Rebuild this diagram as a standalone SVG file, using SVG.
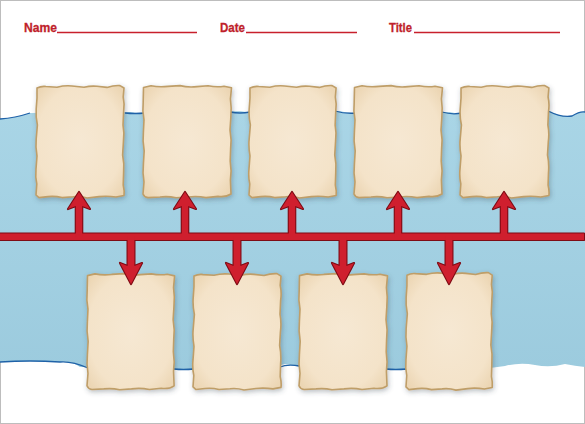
<svg xmlns="http://www.w3.org/2000/svg" xmlns:xlink="http://www.w3.org/1999/xlink" width="585" height="424" viewBox="0 0 585 424">
<style>
.hdr{font-family:"Liberation Sans",Arial,sans-serif;font-weight:bold;font-size:12.5px;fill:#c01f2b;stroke:#c01f2b;stroke-width:0.3}
.uline{stroke:#c8202c;stroke-width:1.5;fill:none}
.paper{fill:url(#paperGrad);stroke:#bf9e68;stroke-width:1.6;stroke-linejoin:round}
.edge{fill:none;stroke:#1f62a8;stroke-width:1.3}
.arrOut{fill:#7e0b14;stroke:#7e0b14;stroke-width:2.2;stroke-linejoin:round}
.arrIn{fill:#cf1f2e}
</style>
<defs>
<radialGradient id="paperGrad" cx="50%" cy="50%" r="65%">
<stop offset="0" stop-color="#f6e8d3"/>
<stop offset="0.75" stop-color="#f4e3c9"/>
<stop offset="1" stop-color="#ecd6b4"/>
</radialGradient>
<linearGradient id="waterGrad" x1="0" y1="0" x2="0" y2="1">
<stop offset="0" stop-color="#a9d5e6"/>
<stop offset="1" stop-color="#9ccbde"/>
</linearGradient>
<filter id="shadow" x="-15%" y="-15%" width="130%" height="130%">
<feDropShadow dx="1" dy="2" stdDeviation="2.5" flood-color="#3a4a55" flood-opacity="0.35"/>
</filter>
<path id="paperA" d="M2,3 Q6,1 11,1.5 L22,2.2 Q30,0.2 37,1 L49,2.2 Q56,0.6 62,1.3 L72,2.4 Q79,0.2 85,0.6 L89,3 L88.2,12 Q89.8,19 88.6,27 L88,40 Q89.6,48 88.4,57 L87.6,70 Q89.4,78 88.6,88 L88.2,100 Q89.6,106 89,110.5 L81,112 Q72,110.6 64,111.6 L52,113 Q45,111 38,111.8 L27,112.6 Q20,110.8 13,111.6 L4,112.6 L1,110 L1.8,99 Q0.2,92 1,84 L2,71 Q0.4,62 1.2,54 L2.4,40 Q0.6,32 1.2,24 L2,13 Z"/>
<path id="paperB" d="M1.5,2.5 L9,0.8 Q17,2.4 26,1.4 L38,0.6 Q46,2.6 55,1.6 L66,0.8 Q75,2.4 82,1.2 L89.5,2.8 L88.4,14 Q89.8,23 88.8,33 L88,45 Q89.8,55 88.6,64 L88.2,76 Q89.8,86 88.4,95 L89,109 Q84,112.4 76,111.4 L64,112.6 Q55,110.8 46,112 L34,112.8 Q26,111 18,112 L6,112.6 Q2,112 1,109 L2,97 Q0.4,88 1.4,79 L2.2,66 Q0.4,56 1.4,47 L2,35 Q0.2,26 1.2,17 Z"/>
<g id="arrows">
<rect x="0" y="233.5" width="584" height="6.5"/>
<path d="M75.8,237 L75.8,206 L68,209 L79,192 L90,209 L82.2,206 L82.2,237 Z"/>
<path d="M181.8,237 L181.8,206 L174,209 L185,192 L196,209 L188.2,206 L188.2,237 Z"/>
<path d="M288.8,237 L288.8,206 L281,209 L292,192 L303,209 L295.2,206 L295.2,237 Z"/>
<path d="M394.8,237 L394.8,206 L387,209 L398,192 L409,209 L401.2,206 L401.2,237 Z"/>
<path d="M500.8,237 L500.8,206 L493,209 L504,192 L515,209 L507.2,206 L507.2,237 Z"/>
<path d="M127.6,236 L127.6,266 L120,263 L131,284 L142,263 L134.4,266 L134.4,236 Z"/>
<path d="M233.6,236 L233.6,266 L226,263 L237,284 L248,263 L240.4,266 L240.4,236 Z"/>
<path d="M339.6,236 L339.6,266 L332,263 L343,284 L354,263 L346.4,266 L346.4,236 Z"/>
<path d="M445.6,236 L445.6,266 L438,263 L449,284 L460,263 L452.4,266 L452.4,236 Z"/>
</g>
</defs>

<rect x="0.5" y="0.5" width="584" height="423" fill="#ffffff" stroke="#bdbdbd" stroke-width="1"/>

<g id="header">
<text class="hdr" x="24" y="32" textLength="33" lengthAdjust="spacingAndGlyphs">Name</text>
<line class="uline" x1="57" y1="32.5" x2="197" y2="32.5"/>
<text class="hdr" x="220" y="32" textLength="25" lengthAdjust="spacingAndGlyphs">Date</text>
<line class="uline" x1="246" y1="32.5" x2="357" y2="32.5"/>
<text class="hdr" x="389" y="32" textLength="23" lengthAdjust="spacingAndGlyphs">Title</text>
<line class="uline" x1="414" y1="32.5" x2="560" y2="32.5"/>
</g>

<g id="water">
<path fill="url(#waterGrad)" d="M0,119 Q15,118 30,113 L130,112 Q140,114 150,113 L240,111 Q250,113 260,112 L340,111 Q350,114 360,113 L450,112 Q457,114 465,113 L550,111 Q562,118 572,116 Q580,111 585,112 L585,367 Q575,366 565,364 Q550,368 535,365 Q520,362 505,366 L490,368 L400,370 L300,367 L285,364 L270,368 L180,370 L170,368 L80,367 Q72,361 60,362 Q30,360 0,362 Z"/>
<path class="edge" d="M0,119 Q15,118 30,113 M125,113 Q135,114 145,113 M230,112 Q240,114 250,112 M335,111 Q345,114 357,113 M442,112 Q452,115 462,113 M548,111 Q562,118 572,116 Q580,111 585,112"/>
<path class="edge" d="M0,362 Q30,360 60,362 Q72,361 88,368 M174,369 Q183,370 194,369 M280,367 Q287,364 300,366 M386,369 Q395,370 407,369"/>
</g>

<g id="node-top-1" filter="url(#shadow)"><use xlink:href="#paperA" class="paper" transform="translate(35,85)"/></g>
<g id="node-top-2" filter="url(#shadow)"><use xlink:href="#paperB" class="paper" transform="translate(142,85)"/></g>
<g id="node-top-3" filter="url(#shadow)"><use xlink:href="#paperA" class="paper" transform="translate(248,85) scale(0.99,1)"/></g>
<g id="node-top-4" filter="url(#shadow)"><use xlink:href="#paperB" class="paper" transform="translate(353,85)"/></g>
<g id="node-top-5" filter="url(#shadow)"><use xlink:href="#paperA" class="paper" transform="translate(459,85) scale(1.01,1)"/></g>

<g id="node-bottom-1" filter="url(#shadow)"><use xlink:href="#paperB" class="paper" transform="translate(86,273) scale(0.99,1.035)"/></g>
<g id="node-bottom-2" filter="url(#shadow)"><use xlink:href="#paperA" class="paper" transform="translate(192,273) scale(1,1.035)"/></g>
<g id="node-bottom-3" filter="url(#shadow)"><use xlink:href="#paperB" class="paper" transform="translate(298,273) scale(1,1.035)"/></g>
<g id="node-bottom-4" filter="url(#shadow)"><use xlink:href="#paperA" class="paper" transform="translate(405,272) scale(0.98,1.045)"/></g>

<g id="connectors">
<use xlink:href="#arrows" class="arrOut"/>
<use xlink:href="#arrows" class="arrIn"/>
</g>
</svg>
